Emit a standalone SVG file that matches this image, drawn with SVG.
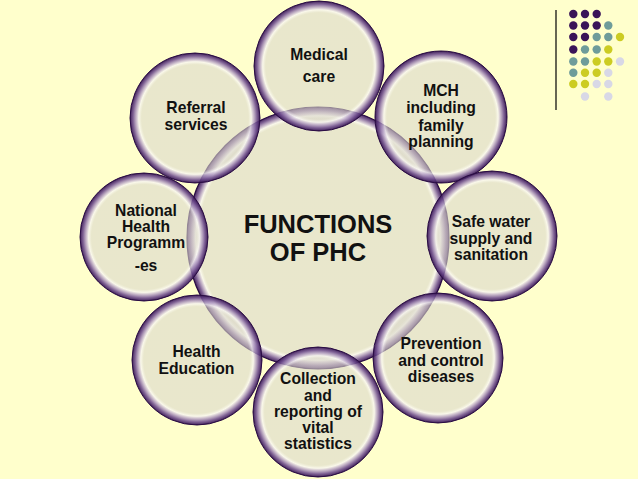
<svg xmlns="http://www.w3.org/2000/svg" width="638" height="479" viewBox="0 0 638 479">
  <defs>
    <radialGradient id="gs" cx="50%" cy="50%" r="50%">
      <stop offset="0%" stop-color="#DAD7CC" stop-opacity="0.6"/>
      <stop offset="82%" stop-color="#DAD7CC" stop-opacity="0.6"/>
      <stop offset="86.5%" stop-color="#F8F6F4" stop-opacity="0.75"/>
      <stop offset="90%" stop-color="#BAA6CC" stop-opacity="0.75"/>
      <stop offset="95%" stop-color="#6E4C8E" stop-opacity="0.85"/>
      <stop offset="98.5%" stop-color="#462464" stop-opacity="0.92"/>
      <stop offset="100%" stop-color="#2A0C44" stop-opacity="1"/>
    </radialGradient>
    <radialGradient id="gb" cx="50%" cy="50%" r="50%">
      <stop offset="0%" stop-color="#DAD7CC" stop-opacity="0.6"/>
      <stop offset="91%" stop-color="#DAD7CC" stop-opacity="0.6"/>
      <stop offset="93.3%" stop-color="#F8F6F4" stop-opacity="0.75"/>
      <stop offset="95%" stop-color="#BAA6CC" stop-opacity="0.75"/>
      <stop offset="97.5%" stop-color="#6E4C8E" stop-opacity="0.85"/>
      <stop offset="99.3%" stop-color="#462464" stop-opacity="0.92"/>
      <stop offset="100%" stop-color="#2A0C44" stop-opacity="1"/>
    </radialGradient>
  </defs>
  <style>
    .s { fill: url(#gs); stroke: #2A0C44; stroke-width: 1; }
    .b { fill: url(#gb); stroke: #2A0C44; stroke-width: 1.2; }
    .t { font-family: "Liberation Sans", Arial, sans-serif; font-weight: bold; font-size: 15.7px; fill: #111; text-anchor: middle; }
    .c { font-family: "Liberation Sans", Arial, sans-serif; font-weight: bold; font-size: 25.5px; fill: #111; text-anchor: middle; }
    .p { fill: #3A1458; }
    .g { fill: #6E9C9A; }
    .y { fill: #CCCC22; }
    .l { fill: #D8D8E6; }
  </style>
  <rect width="638" height="479" fill="#FFFFCC"/>

  <g id="decor">
    <line x1="556" y1="10" x2="556" y2="110" stroke="#000" stroke-width="1.2"/>
    <circle class="p" cx="573.3" cy="14" r="4.2"/><circle class="p" cx="585" cy="14" r="4.2"/><circle class="p" cx="596.7" cy="14" r="4.2"/>
    <circle class="p" cx="573.3" cy="25.5" r="4.2"/><circle class="p" cx="585" cy="25.5" r="4.2"/><circle class="p" cx="596.7" cy="25.5" r="4.2"/><circle class="g" cx="608.3" cy="25.5" r="4.2"/>
    <circle class="p" cx="573.3" cy="37" r="4.2"/><circle class="p" cx="585" cy="37" r="4.2"/><circle class="g" cx="596.7" cy="37" r="4.2"/><circle class="g" cx="608.3" cy="37" r="4.2"/><circle class="y" cx="620" cy="37" r="4.2"/>
    <circle class="p" cx="573.3" cy="49.5" r="4.2"/><circle class="g" cx="585" cy="49.5" r="4.2"/><circle class="g" cx="596.7" cy="49.5" r="4.2"/><circle class="y" cx="608.3" cy="49.5" r="4.2"/>
    <circle class="g" cx="573.3" cy="61.5" r="4.2"/><circle class="g" cx="585" cy="61.5" r="4.2"/><circle class="y" cx="596.7" cy="61.5" r="4.2"/><circle class="y" cx="608.3" cy="61.5" r="4.2"/><circle class="l" cx="620" cy="61.5" r="4.2"/>
    <circle class="g" cx="573.3" cy="72.7" r="4.2"/><circle class="y" cx="585" cy="72.7" r="4.2"/><circle class="y" cx="596.7" cy="72.7" r="4.2"/><circle class="l" cx="608.3" cy="72.7" r="4.2"/>
    <circle class="y" cx="573.3" cy="84" r="4.2"/><circle class="y" cx="585" cy="84" r="4.2"/><circle class="l" cx="596.7" cy="84" r="4.2"/><circle class="l" cx="608.3" cy="84" r="4.2"/>
    <circle class="l" cx="585" cy="96.5" r="4.2"/><circle class="l" cx="608.3" cy="96.5" r="4.2"/>
  </g>

  <g id="center">
    <circle class="b" cx="318" cy="238" r="131"/>
    <text class="c" x="318" y="232.5">FUNCTIONS</text>
    <text class="c" x="318" y="261">OF PHC</text>
  </g>

  <g id="medical-care">
    <circle class="s" cx="319" cy="66" r="65"/>
    <text class="t" x="319" y="59.5">Medical</text>
    <text class="t" x="319" y="81.5">care</text>
  </g>

  <g id="mch">
    <circle class="s" cx="441" cy="117" r="66"/>
    <text class="t" x="441" y="96">MCH</text>
    <text class="t" x="441" y="113.3">including</text>
    <text class="t" x="441" y="130.5">family</text>
    <text class="t" x="441" y="147">planning</text>
  </g>

  <g id="safe-water">
    <circle class="s" cx="492" cy="236" r="65"/>
    <text class="t" x="491" y="227.3">Safe water</text>
    <text class="t" x="491" y="244">supply and</text>
    <text class="t" x="491" y="260">sanitation</text>
  </g>

  <g id="prevention">
    <circle class="s" cx="438" cy="358" r="65"/>
    <text class="t" x="441" y="349.3">Prevention</text>
    <text class="t" x="441" y="366">and control</text>
    <text class="t" x="441" y="382.3">diseases</text>
  </g>

  <g id="collection">
    <circle class="s" cx="318" cy="412" r="65"/>
    <text class="t" x="318" y="384">Collection</text>
    <text class="t" x="318" y="400.7">and</text>
    <text class="t" x="318" y="416.7">reporting of</text>
    <text class="t" x="318" y="433.3">vital</text>
    <text class="t" x="318" y="449.3">statistics</text>
  </g>

  <g id="health-education">
    <circle class="s" cx="197" cy="360" r="65"/>
    <text class="t" x="196.5" y="356.7">Health</text>
    <text class="t" x="196.5" y="374">Education</text>
  </g>

  <g id="national-health">
    <circle class="s" cx="144" cy="237" r="64"/>
    <text class="t" x="146" y="215.7">National</text>
    <text class="t" x="146" y="232.3">Health</text>
    <text class="t" x="146" y="248.3">Programm</text>
    <text class="t" x="146" y="271">-es</text>
  </g>

  <g id="referral">
    <circle class="s" cx="195" cy="118" r="65"/>
    <text class="t" x="196" y="113.3">Referral</text>
    <text class="t" x="196" y="130">services</text>
  </g>
</svg>
